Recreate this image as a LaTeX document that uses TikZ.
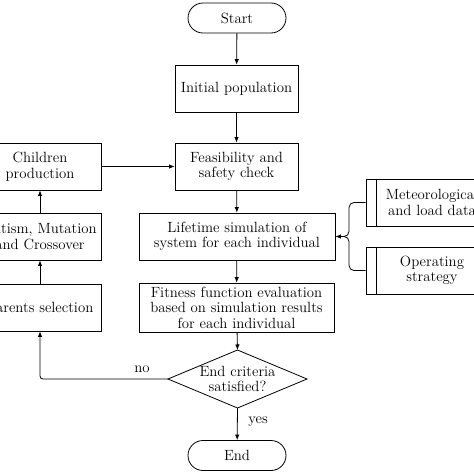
\documentclass[tikz,border=0pt]{standalone}
\usetikzlibrary{arrows.meta}
\begin{document}
\begin{tikzpicture}[x=1pt,y=-1pt,
  font=\fontsize{14.8}{15.5}\selectfont,
  box/.style={draw, line width=0.8pt, align=center, inner sep=0pt, minimum height=47pt},
  term/.style={draw, line width=0.8pt, rounded corners=15pt, minimum width=98pt, minimum height=30pt, inner sep=0pt},
  conn/.style={line width=0.8pt, -{Latex[length=5.5pt,width=4.5pt]}},
  plain/.style={line width=0.8pt},
  lbl/.style={inner sep=0pt}
]
\useasboundingbox (0,0) rectangle (474,474);

% main column
\node[term] (start) at (237,18) {Start};
\node[box, minimum width=123pt] (init) at (236.5,88.5) {Initial population};
\node[box, minimum width=123pt] (feas) at (236.5,166.5) {Feasibility and\\safety check};
\node[box, minimum width=196pt] (life) at (237,236.5) {Lifetime simulation of\\system for each individual};
\node[box, minimum width=195pt, minimum height=49pt] (fit) at (236.5,307.5) {Fitness function evaluation\\based on simulation results\\for each individual};
\node[lbl, align=center] (dec) at (237.5,379) {End criteria\\satisfied?};
\coordinate (dt) at (237.5,350);
\coordinate (dr) at (307,379);
\coordinate (db) at (237.5,408);
\coordinate (dl) at (168,379);
\draw[plain] (dt) -- (dr) -- (db) -- (dl) -- cycle;
\node[term] (end) at (237,455.5) {End};

% left column
\node[box, minimum width=122pt] (par) at (40,307.5) {Parents selection};
\node[box, minimum width=122pt] (eli) at (40,236.5) {Elitism, Mutation\\and Crossover};
\node[box, minimum width=122pt] (chi) at (40,166.5) {Children\\production};

% right column
\node[box, minimum width=132pt] (met) at (432,202.5) {Meteorological\\and load data};
\node[box, minimum width=132pt] (op) at (432,270.5) {Operating\\strategy};
\draw[plain] ([xshift=11pt]met.north west) -- ([xshift=11pt]met.south west);
\draw[plain] ([xshift=11pt]op.north west) -- ([xshift=11pt]op.south west);

% brace
\coordinate (tip) at (344,236.5);
\draw[plain, rounded corners=5pt] (met.west) -- (349,202.5) -- (349,236.5) -- (tip);
\draw[plain, rounded corners=5pt] (op.west) -- (349,270.5) -- (349,236.5) -- (tip);
\draw[conn] (tip) -- (life.east);

% connectors
\draw[conn] (start) -- (init);
\draw[conn] (init) -- (feas);
\draw[conn] (feas) -- (life);
\draw[conn] (life) -- (fit);
\draw[conn] (fit) -- (dt);
\draw[conn] (db) -- (end);
\draw[conn, rounded corners=3pt] (dl) -| (par.south);
\draw[conn] (par) -- (eli);
\draw[conn] (eli) -- (chi);
\draw[conn] (chi) -- (feas);

% labels
\node[lbl] (yes) at (258,422) {yes};
\node[lbl] (no) at (142,369) {no};
\end{tikzpicture}
\end{document}
